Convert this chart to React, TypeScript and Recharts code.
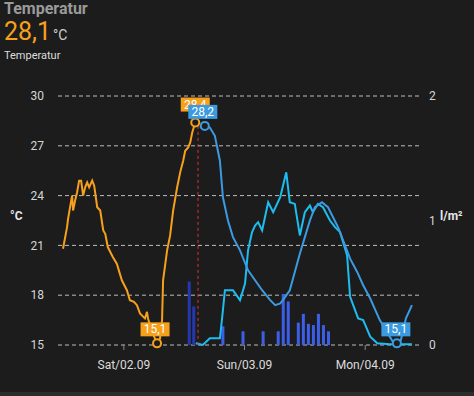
import { ComposedChart, Line, Bar, XAxis, YAxis, CartesianGrid, ReferenceLine, ReferenceDot } from 'recharts'

// time axis in hours from Fri ~10:50, temps in °C, rain in l/m²
const pastHours = [1.0, 1.8, 2.0, 2.8, 3.0, 3.4, 3.8, 4.2, 4.6, 5.0, 5.4, 5.8, 6.2, 6.8, 7.2, 7.8, 8.4, 9.0, 9.4, 9.9, 10.9, 11.7, 12.7, 13.7, 14.3, 15.1, 15.7, 16.3, 17.3, 17.7, 17.9, 18.7, 19.7, 20.3, 20.7, 20.9, 21.7, 22.3, 22.9, 23.7, 24.3, 24.9, 25.3, 25.9, 26.3, 26.7, 27.3]
const pastTemp = [20.8, 22.1, 22.6, 24.0, 23.1, 23.7, 24.2, 24.9, 24.9, 24.0, 24.5, 24.8, 24.5, 24.9, 24.6, 23.3, 23.1, 21.9, 21.7, 20.9, 20.3, 19.9, 18.9, 18.3, 17.7, 17.6, 17.4, 16.9, 16.6, 17.0, 16.6, 15.8, 15.1, 15.4, 16.5, 18.9, 20.7, 21.6, 23.1, 24.5, 25.4, 26.1, 26.7, 26.9, 27.2, 27.8, 28.4]

const forecastHours = [28.2, 29.2, 30.2, 31.2, 32.2, 32.8, 33.8, 34.8, 36.2, 37.8, 39.2, 40.6, 42.2, 43.2, 44.2, 45.2, 46.1, 47.1, 48.1, 49.1, 50.1, 51.1, 52.5, 53.7, 54.7, 55.7, 56.7, 58.1, 59.5, 60.7, 62.1, 64.0, 65.6, 66.6, 67.4, 68.2, 69.2, 70.4]
const forecastTemp = [28.1, 28.2, 28.1, 27.6, 26.1, 23.9, 22.5, 21.5, 20.7, 19.5, 18.9, 18.3, 17.7, 17.4, 17.5, 17.9, 18.3, 19.4, 20.5, 21.5, 22.5, 23.3, 23.6, 23.3, 22.7, 22.1, 21.3, 20.2, 19.4, 18.6, 17.8, 16.5, 15.7, 15.2, 15.1, 15.3, 16.6, 17.4]

const outsideHours = [27.4, 28.8, 30.2, 32.2, 32.6, 33.2, 34.8, 36.2, 37.2, 37.8, 38.6, 39.2, 39.8, 40.6, 41.8, 42.8, 44.2, 45.4, 46.1, 47.1, 48.1, 49.1, 50.1, 50.7, 51.7, 52.7, 54.1, 55.1, 56.1, 56.9, 57.5, 58.1, 59.7, 60.7, 62.1, 63.5, 66.0, 70.4]
const outsideTemp = [15.1, 15.0, 15.4, 15.4, 16.5, 18.3, 18.3, 17.7, 18.7, 20.7, 21.8, 22.2, 22.4, 21.9, 23.6, 23.0, 23.9, 25.4, 23.6, 23.5, 21.6, 23.0, 23.4, 23.0, 23.5, 23.3, 22.5, 22.1, 21.8, 21.0, 20.4, 17.9, 16.6, 16.5, 15.5, 15.1, 15.05, 15.05]

const rainPastHours = [26.1, 27.0]
const rainPast = [0.51, 0.31]
const rainHours = [32.8, 36.8, 40.8, 43.8, 44.8, 45.8, 47.8, 48.8, 49.8, 50.8, 51.8, 52.8, 53.8]
const rain = [0.15, 0.11, 0.11, 0.11, 0.41, 0.35, 0.18, 0.25, 0.17, 0.16, 0.25, 0.16, 0.11]

const dayTicks = [13.1, 37.1, 61.1]
const dayLabels = ['Sat/02.09', 'Sun/03.09', 'Mon/04.09']
const tempTicks = [15, 18, 21, 24, 27, 30]
const rainTicks = [0, 1, 2]
const nowHour = 27.85

const ORANGE = '#f7a01c'
const STEEL = '#3c9be0'
const CYAN = '#1dbdf0'
const BG = '#1c1c1c'

const toPoints = (hs: number[], ts: number[]) => hs.map((h, i) => ({ h, t: ts[i] }))
const pastData = toPoints(pastHours, pastTemp)
const forecastData = toPoints(forecastHours, forecastTemp)
const outsideData = toPoints(outsideHours, outsideTemp)
const rainData = [
  ...rainPastHours.map((h, i) => ({ h, past: rainPast[i], fc: 0 })),
  ...rainHours.map((h, i) => ({ h, past: 0, fc: rain[i] })),
]

const extreme = (pts: { h: number; t: number }[], pick: 'min' | 'max') =>
  pts.reduce((a, b) => (pick === 'max' ? (b.t > a.t ? b : a) : (b.t < a.t ? b : a)))

const fmt = (v: number) => v.toFixed(1).replace('.', ',')

// recharts squeezes bars on a number axis, so draw them 3px wide around their centre
function RainBar(props: any) {
  const { x, y, width, height, fill } = props
  if (!height || height <= 0) return null
  return <rect x={x + width / 2 - 1.5} y={y} width={3} height={height} fill={fill} />
}

function Marker(props: any) {
  const { cx, cy, color, value, lift = 0, dx = 0 } = props
  if (cx == null || cy == null) return null
  const w = 29
  const hh = 14
  const top = cy - 7 - hh - lift
  return (
    <g>
      <circle cx={cx} cy={cy} r={4} fill={BG} stroke={color} strokeWidth={2} />
      <rect x={cx + dx - w / 2} y={top} width={w} height={hh} fill={color} />
      <text x={cx + dx} y={top + 11} textAnchor="middle" fill="#fff" fontSize={12} fontFamily="Roboto">
        {fmt(value)}
      </text>
    </g>
  )
}

export default function App() {
  const pastMax = extreme(pastData, 'max')
  const pastMin = extreme(pastData, 'min')
  const fcMax = extreme(forecastData, 'max')
  const fcMin = extreme(forecastData, 'min')

  return (
    <div style={{ position: 'fixed', left: 0, top: 0, width: 474, height: 396, background: BG, overflow: 'hidden', fontFamily: 'Roboto' }}>
      <div style={{ position: 'absolute', left: 4, top: 0, fontSize: 16, lineHeight: '17px', fontWeight: 700, color: '#9a9a9a' }}>Temperatur</div>
      <div style={{ position: 'absolute', left: 4, top: 17, color: ORANGE, fontSize: 25 }}>
        28,1<span style={{ fontSize: 14, color: '#cfcfcf', marginLeft: 2 }}>°C</span>
      </div>
      <div style={{ position: 'absolute', left: 4, top: 49, fontSize: 11, color: '#dcdcdc' }}>Temperatur</div>
      <div style={{ position: 'absolute', left: 10, top: 209, fontSize: 12, fontWeight: 700, color: '#e6e6e6' }}>°C</div>
      <div style={{ position: 'absolute', left: 440, top: 209, fontSize: 12, fontWeight: 700, color: '#e6e6e6' }}>l/m²</div>
      <div style={{ position: 'absolute', left: 0, top: 392, width: 474, height: 4, background: '#2c2c2c' }} />

      <div style={{ position: 'absolute', left: 0, top: 0 }}>
        <ComposedChart width={474} height={396} data={rainData} margin={{ top: 96, right: 14, bottom: 21, left: 18 }}>
          <CartesianGrid yAxisId="t" vertical={false} stroke="#bdbdbd" strokeDasharray="4 3" />
          <XAxis
            dataKey="h"
            type="number"
            domain={[0, 72]}
            ticks={dayTicks}
            interval={0}
            allowDataOverflow
            height={30}
            axisLine={false}
            tickSize={5}
            tickMargin={10}
            tickLine={{ stroke: '#8a8a8a' }}
            tick={{ fill: '#dcdcdc', fontSize: 12, fontFamily: 'Roboto' }}
            tickFormatter={(_v: number, i: number) => dayLabels[i]}
          />
          <YAxis
            yAxisId="t"
            domain={[15, 30]}
            ticks={tempTicks}
            width={40}
            axisLine={false}
            tickLine={false}
            tickSize={6}
            tickMargin={8}
            tick={{ fill: '#d6d6d6', fontSize: 12, fontFamily: 'Roboto' }}
          />
          <YAxis
            yAxisId="r"
            orientation="right"
            domain={[0, 2]}
            ticks={rainTicks}
            width={40}
            axisLine={false}
            tickLine={false}
            tickSize={6}
            tickMargin={3}
            tick={{ fill: '#d6d6d6', fontSize: 12, fontFamily: 'Roboto', textAnchor: 'start' }}
          />
          <Bar yAxisId="r" dataKey="past" stackId="rain" fill="#2337b0" shape={<RainBar />} isAnimationActive={false} />
          <Bar yAxisId="r" dataKey="fc" stackId="rain" fill="#3d5fe8" shape={<RainBar />} isAnimationActive={false} />
          <Line yAxisId="t" data={pastData} dataKey="t" stroke={ORANGE} strokeWidth={2} dot={false} isAnimationActive={false} />
          <Line yAxisId="t" data={outsideData} dataKey="t" stroke={CYAN} strokeWidth={2} dot={false} isAnimationActive={false} />
          <Line yAxisId="t" data={forecastData} dataKey="t" stroke={STEEL} strokeWidth={2} dot={false} isAnimationActive={false} />
          <ReferenceLine
            yAxisId="t"
            segment={[{ x: nowHour, y: fcMax.t }, { x: nowHour, y: 15 }]}
            stroke="#e0303e"
            strokeDasharray="3 3"
          />
          <ReferenceDot yAxisId="t" x={pastMax.h} y={pastMax.t} shape={(p: any) => <Marker {...p} color={ORANGE} value={pastMax.t} lift={4} />} />
          <ReferenceDot yAxisId="t" x={pastMin.h} y={pastMin.t} shape={(p: any) => <Marker {...p} color={ORANGE} value={pastMin.t} dx={-2} />} />
          <ReferenceDot yAxisId="t" x={fcMax.h} y={fcMax.t} shape={(p: any) => <Marker {...p} color={STEEL} value={fcMax.t} dx={-2} />} />
          <ReferenceDot yAxisId="t" x={fcMin.h} y={fcMin.t} shape={(p: any) => <Marker {...p} color={STEEL} value={fcMin.t} dx={-1} />} />
        </ComposedChart>
      </div>
    </div>
  )
}
